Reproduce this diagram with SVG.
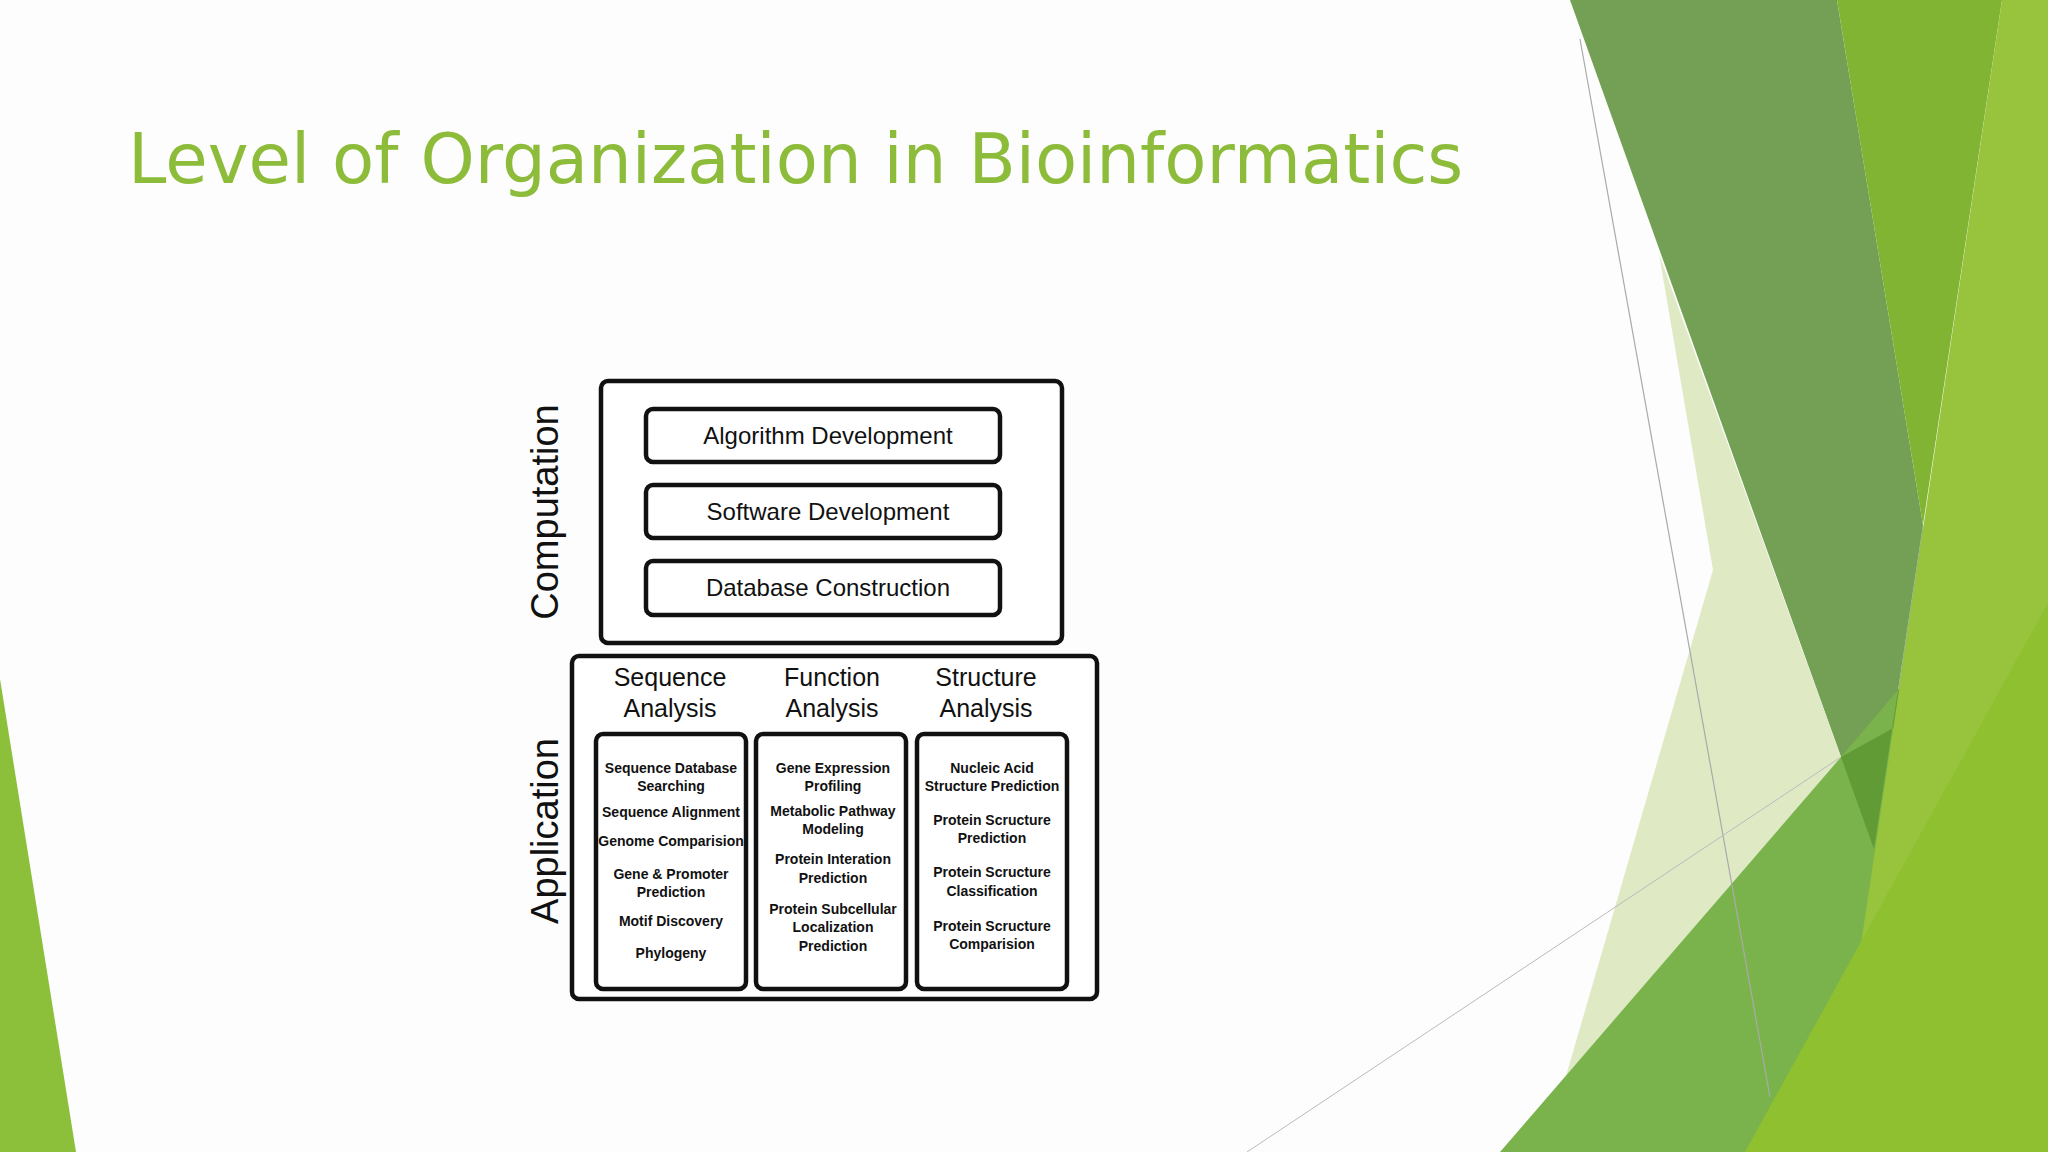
<svg xmlns="http://www.w3.org/2000/svg" width="2048" height="1152" viewBox="0 0 2048 1152">
<style>
.box{fill:#fff;stroke:#111;stroke-width:4.5}
.t{font-family:"Liberation Sans",Arial,sans-serif;fill:#111;text-anchor:middle}
.m{font-size:24px}
.h{font-size:25px}
.s{font-size:14px;font-weight:bold}
.v{font-size:38px}
</style>
<rect width="2048" height="1152" fill="#fdfdfd"/>
<g id="background">
<polygon points="0,679 0,1152 76,1152" fill="#8cbf3a"/>
<polygon points="1570,0 1837,0 1923,525 1874,849" fill="#74a055"/>
<polygon points="1837,0 2002,0 1923,525" fill="#80b432"/>
<polygon points="1659,254 1713,570 1566,1076 1841,757" fill="#dfeac4"/>
<polygon points="1500,1152 1841,757 2048,514 2048,1152" fill="#7ab34c"/>
<polygon points="1841,757 1874,849 1923,525 1980,680" fill="#4f8a26" opacity="0.6"/>
<polygon points="2002,0 2048,0 2048,1152 1830,1152" fill="#97c43c"/>
<polygon points="1745,1152 2048,603 2048,1152" fill="#8fc030"/>
<line x1="1580" y1="39" x2="1770" y2="1097" stroke="#aaa" stroke-width="1.2"/>
<line x1="1247" y1="1152" x2="1841" y2="757" stroke="#bbb" stroke-width="1"/>
</g>
<text x="128" y="183" font-family="'DejaVu Sans',sans-serif" font-size="69" fill="#8cbc3a">Level of Organization in Bioinformatics</text>
<g id="computation">
<rect class="box" x="601" y="381" width="461" height="262" rx="7"/>
<text class="t v" transform="translate(558,512) rotate(-90)">Computation</text>
</g>
<g id="algo"><rect class="box" x="646" y="409" width="354" height="53" rx="7"/><text class="t m" x="828" y="444">Algorithm Development</text></g>
<g id="soft"><rect class="box" x="646" y="485" width="354" height="53" rx="7"/><text class="t m" x="828" y="520">Software Development</text></g>
<g id="db"><rect class="box" x="646" y="561" width="354" height="54" rx="7"/><text class="t m" x="828" y="596">Database Construction</text></g>
<g id="application">
<rect class="box" x="572" y="656" width="525" height="343" rx="7"/>
<text class="t v" transform="translate(558,831) rotate(-90)">Application</text>
<text class="t h" x="670" y="686">Sequence</text><text class="t h" x="670" y="717">Analysis</text>
<text class="t h" x="832" y="686">Function</text><text class="t h" x="832" y="717">Analysis</text>
<text class="t h" x="986" y="686">Structure</text><text class="t h" x="986" y="717">Analysis</text>
</g>
<g id="seq"><rect class="box" x="596" y="734" width="150" height="255" rx="7"/>
<text class="t s" x="671" y="773">Sequence Database</text><text class="t s" x="671" y="791">Searching</text>
<text class="t s" x="671" y="817">Sequence Alignment</text>
<text class="t s" x="671" y="846">Genome Comparision</text>
<text class="t s" x="671" y="879">Gene &amp; Promoter</text><text class="t s" x="671" y="897">Prediction</text>
<text class="t s" x="671" y="926">Motif Discovery</text>
<text class="t s" x="671" y="958">Phylogeny</text></g>
<g id="func"><rect class="box" x="756" y="734" width="150" height="255" rx="7"/>
<text class="t s" x="833" y="773">Gene Expression</text><text class="t s" x="833" y="791">Profiling</text>
<text class="t s" x="833" y="816">Metabolic Pathway</text><text class="t s" x="833" y="834">Modeling</text>
<text class="t s" x="833" y="864">Protein Interation</text><text class="t s" x="833" y="883">Prediction</text>
<text class="t s" x="833" y="914">Protein Subcellular</text><text class="t s" x="833" y="932">Localization</text><text class="t s" x="833" y="951">Prediction</text></g>
<g id="struct"><rect class="box" x="917" y="734" width="150" height="255" rx="7"/>
<text class="t s" x="992" y="773">Nucleic Acid</text><text class="t s" x="992" y="791">Structure Prediction</text>
<text class="t s" x="992" y="825">Protein Scructure</text><text class="t s" x="992" y="843">Prediction</text>
<text class="t s" x="992" y="877">Protein Scructure</text><text class="t s" x="992" y="896">Classification</text>
<text class="t s" x="992" y="931">Protein Scructure</text><text class="t s" x="992" y="949">Comparision</text></g>
<g id="connectors"/>
</svg>
